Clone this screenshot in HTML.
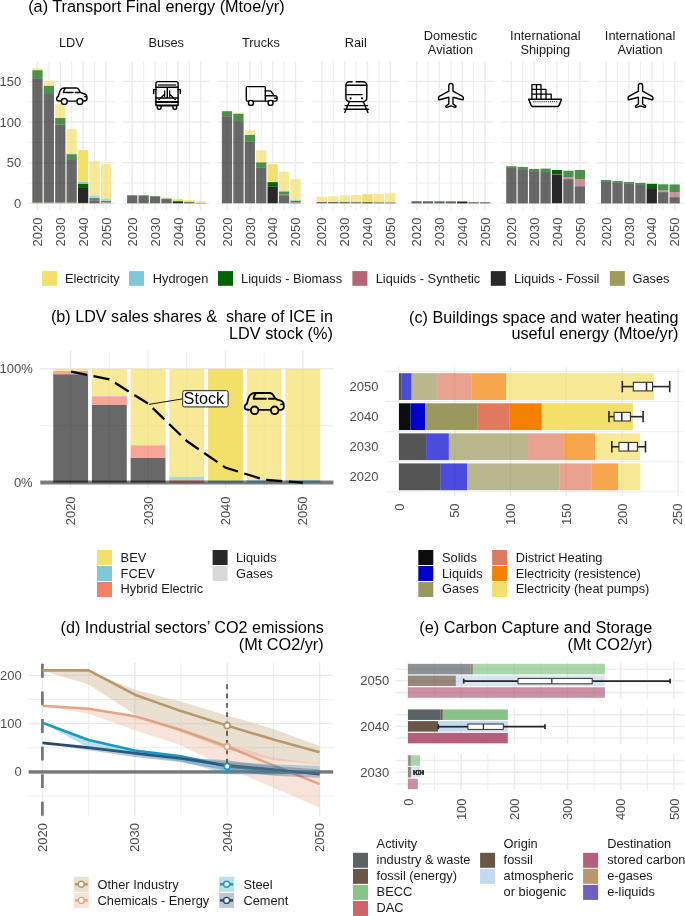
<!DOCTYPE html>
<html><head><meta charset="utf-8"><style>
html,body{margin:0;padding:0;background:#fff;}
svg{display:block;font-family:"Liberation Sans", sans-serif;will-change:transform;}
</style></head><body>
<svg width="685" height="916" viewBox="0 0 685 916">
<rect width="685" height="916" fill="#fff"/>
<text x="28.2" y="11.7" font-size="16.25" fill="#000" text-anchor="start">(a) Transport Final energy (Mtoe/yr)</text>
<line x1="28.1" y1="183.07" x2="114.7" y2="183.07" stroke="#EBEBEB" stroke-width="0.9"/>
<line x1="28.1" y1="142.4" x2="114.7" y2="142.4" stroke="#EBEBEB" stroke-width="0.9"/>
<line x1="28.1" y1="101.74" x2="114.7" y2="101.74" stroke="#EBEBEB" stroke-width="0.9"/>
<line x1="48.87" y1="61.6" x2="48.87" y2="210.4" stroke="#EBEBEB" stroke-width="0.9"/>
<line x1="71.7" y1="61.6" x2="71.7" y2="210.4" stroke="#EBEBEB" stroke-width="0.9"/>
<line x1="94.53" y1="61.6" x2="94.53" y2="210.4" stroke="#EBEBEB" stroke-width="0.9"/>
<line x1="28.1" y1="203.4" x2="114.7" y2="203.4" stroke="#EBEBEB" stroke-width="1.4"/>
<line x1="28.1" y1="162.74" x2="114.7" y2="162.74" stroke="#EBEBEB" stroke-width="1.4"/>
<line x1="28.1" y1="122.07" x2="114.7" y2="122.07" stroke="#EBEBEB" stroke-width="1.4"/>
<line x1="28.1" y1="81.41" x2="114.7" y2="81.41" stroke="#EBEBEB" stroke-width="1.4"/>
<line x1="37.46" y1="61.6" x2="37.46" y2="210.4" stroke="#EBEBEB" stroke-width="1.4"/>
<line x1="60.29" y1="61.6" x2="60.29" y2="210.4" stroke="#EBEBEB" stroke-width="1.4"/>
<line x1="83.12" y1="61.6" x2="83.12" y2="210.4" stroke="#EBEBEB" stroke-width="1.4"/>
<line x1="105.94" y1="61.6" x2="105.94" y2="210.4" stroke="#EBEBEB" stroke-width="1.4"/>
<rect x="32.32" y="202.59" width="10.27" height="0.81" fill="#A09B5C" fill-opacity="0.7"/>
<rect x="32.32" y="78.23" width="10.27" height="124.35" fill="#282828" fill-opacity="0.7"/>
<rect x="32.32" y="70.18" width="10.27" height="8.05" fill="#006400" fill-opacity="0.7"/>
<rect x="32.32" y="68.31" width="10.27" height="1.87" fill="#F3E06A" fill-opacity="0.7"/>
<rect x="43.74" y="202.59" width="10.27" height="0.81" fill="#A09B5C" fill-opacity="0.7"/>
<rect x="43.74" y="93.12" width="10.27" height="109.47" fill="#282828" fill-opacity="0.7"/>
<rect x="43.74" y="85.8" width="10.27" height="7.32" fill="#006400" fill-opacity="0.7"/>
<rect x="43.74" y="80.84" width="10.27" height="4.96" fill="#F3E06A" fill-opacity="0.7"/>
<rect x="55.15" y="202.59" width="10.27" height="0.81" fill="#A09B5C" fill-opacity="0.7"/>
<rect x="55.15" y="124.51" width="10.27" height="78.08" fill="#282828" fill-opacity="0.7"/>
<rect x="55.15" y="118" width="10.27" height="6.51" fill="#006400" fill-opacity="0.7"/>
<rect x="55.15" y="117.76" width="10.27" height="0.24" fill="#7FC8DA" fill-opacity="0.7"/>
<rect x="55.15" y="104.26" width="10.27" height="13.5" fill="#F3E06A" fill-opacity="0.7"/>
<rect x="66.56" y="202.59" width="10.27" height="0.81" fill="#A09B5C" fill-opacity="0.7"/>
<rect x="66.56" y="159.97" width="10.27" height="42.62" fill="#282828" fill-opacity="0.7"/>
<rect x="66.56" y="154.2" width="10.27" height="5.77" fill="#006400" fill-opacity="0.7"/>
<rect x="66.56" y="153.3" width="10.27" height="0.89" fill="#7FC8DA" fill-opacity="0.7"/>
<rect x="66.56" y="129.15" width="10.27" height="24.16" fill="#F3E06A" fill-opacity="0.7"/>
<rect x="77.98" y="202.91" width="10.27" height="0.49" fill="#A09B5C"/>
<rect x="77.98" y="187.95" width="10.27" height="14.96" fill="#282828"/>
<rect x="77.98" y="183.96" width="10.27" height="3.99" fill="#006400"/>
<rect x="77.98" y="181.85" width="10.27" height="2.11" fill="#7FC8DA"/>
<rect x="77.98" y="150.13" width="10.27" height="31.72" fill="#F3E06A"/>
<rect x="89.39" y="203.24" width="10.27" height="0.16" fill="#A09B5C" fill-opacity="0.7"/>
<rect x="89.39" y="200.23" width="10.27" height="3.01" fill="#282828" fill-opacity="0.7"/>
<rect x="89.39" y="199.98" width="10.27" height="0.24" fill="#B46474" fill-opacity="0.7"/>
<rect x="89.39" y="198.11" width="10.27" height="1.87" fill="#006400" fill-opacity="0.7"/>
<rect x="89.39" y="195.51" width="10.27" height="2.6" fill="#7FC8DA" fill-opacity="0.7"/>
<rect x="89.39" y="161.19" width="10.27" height="34.32" fill="#F3E06A" fill-opacity="0.7"/>
<rect x="100.81" y="203.32" width="10.27" height="0.08" fill="#A09B5C" fill-opacity="0.7"/>
<rect x="100.81" y="202.18" width="10.27" height="1.14" fill="#B46474" fill-opacity="0.7"/>
<rect x="100.81" y="200.96" width="10.27" height="1.22" fill="#006400" fill-opacity="0.7"/>
<rect x="100.81" y="198.76" width="10.27" height="2.2" fill="#7FC8DA" fill-opacity="0.7"/>
<rect x="100.81" y="164.12" width="10.27" height="34.65" fill="#F3E06A" fill-opacity="0.7"/>
<text x="71.4" y="47" font-size="12.8" fill="#1A1A1A" text-anchor="middle">LDV</text>
<text x="42.11" y="217.5" font-size="13" fill="#4D4D4D" text-anchor="end" transform="rotate(-90 42.11 217.5)">2020</text>
<text x="64.94" y="217.5" font-size="13" fill="#4D4D4D" text-anchor="end" transform="rotate(-90 64.94 217.5)">2030</text>
<text x="87.77" y="217.5" font-size="13" fill="#4D4D4D" text-anchor="end" transform="rotate(-90 87.77 217.5)">2040</text>
<text x="110.59" y="217.5" font-size="13" fill="#4D4D4D" text-anchor="end" transform="rotate(-90 110.59 217.5)">2050</text>
<line x1="122.88" y1="183.07" x2="209.48" y2="183.07" stroke="#EBEBEB" stroke-width="0.9"/>
<line x1="122.88" y1="142.4" x2="209.48" y2="142.4" stroke="#EBEBEB" stroke-width="0.9"/>
<line x1="122.88" y1="101.74" x2="209.48" y2="101.74" stroke="#EBEBEB" stroke-width="0.9"/>
<line x1="143.65" y1="61.6" x2="143.65" y2="210.4" stroke="#EBEBEB" stroke-width="0.9"/>
<line x1="166.48" y1="61.6" x2="166.48" y2="210.4" stroke="#EBEBEB" stroke-width="0.9"/>
<line x1="189.31" y1="61.6" x2="189.31" y2="210.4" stroke="#EBEBEB" stroke-width="0.9"/>
<line x1="122.88" y1="203.4" x2="209.48" y2="203.4" stroke="#EBEBEB" stroke-width="1.4"/>
<line x1="122.88" y1="162.74" x2="209.48" y2="162.74" stroke="#EBEBEB" stroke-width="1.4"/>
<line x1="122.88" y1="122.07" x2="209.48" y2="122.07" stroke="#EBEBEB" stroke-width="1.4"/>
<line x1="122.88" y1="81.41" x2="209.48" y2="81.41" stroke="#EBEBEB" stroke-width="1.4"/>
<line x1="132.23" y1="61.6" x2="132.23" y2="210.4" stroke="#EBEBEB" stroke-width="1.4"/>
<line x1="155.06" y1="61.6" x2="155.06" y2="210.4" stroke="#EBEBEB" stroke-width="1.4"/>
<line x1="177.89" y1="61.6" x2="177.89" y2="210.4" stroke="#EBEBEB" stroke-width="1.4"/>
<line x1="200.72" y1="61.6" x2="200.72" y2="210.4" stroke="#EBEBEB" stroke-width="1.4"/>
<rect x="127.1" y="203.24" width="10.27" height="0.16" fill="#A09B5C" fill-opacity="0.7"/>
<rect x="127.1" y="195.59" width="10.27" height="7.65" fill="#282828" fill-opacity="0.7"/>
<rect x="127.1" y="195.1" width="10.27" height="0.49" fill="#006400" fill-opacity="0.7"/>
<rect x="138.51" y="203.24" width="10.27" height="0.16" fill="#A09B5C" fill-opacity="0.7"/>
<rect x="138.51" y="195.75" width="10.27" height="7.48" fill="#282828" fill-opacity="0.7"/>
<rect x="138.51" y="195.27" width="10.27" height="0.49" fill="#006400" fill-opacity="0.7"/>
<rect x="149.93" y="203.24" width="10.27" height="0.16" fill="#A09B5C" fill-opacity="0.7"/>
<rect x="149.93" y="196.97" width="10.27" height="6.26" fill="#282828" fill-opacity="0.7"/>
<rect x="149.93" y="196.16" width="10.27" height="0.81" fill="#006400" fill-opacity="0.7"/>
<rect x="161.34" y="203.24" width="10.27" height="0.16" fill="#A09B5C" fill-opacity="0.7"/>
<rect x="161.34" y="199.09" width="10.27" height="4.15" fill="#282828" fill-opacity="0.7"/>
<rect x="161.34" y="198.52" width="10.27" height="0.57" fill="#006400" fill-opacity="0.7"/>
<rect x="161.34" y="197.63" width="10.27" height="0.89" fill="#F3E06A" fill-opacity="0.7"/>
<rect x="172.76" y="203.24" width="10.27" height="0.16" fill="#A09B5C"/>
<rect x="172.76" y="201.61" width="10.27" height="1.63" fill="#282828"/>
<rect x="172.76" y="200.72" width="10.27" height="0.89" fill="#006400"/>
<rect x="172.76" y="199.17" width="10.27" height="1.55" fill="#F3E06A"/>
<rect x="184.18" y="203.32" width="10.27" height="0.08" fill="#A09B5C" fill-opacity="0.7"/>
<rect x="184.18" y="202.1" width="10.27" height="1.22" fill="#282828" fill-opacity="0.7"/>
<rect x="184.18" y="201.69" width="10.27" height="0.41" fill="#006400" fill-opacity="0.7"/>
<rect x="184.18" y="199.98" width="10.27" height="1.71" fill="#F3E06A" fill-opacity="0.7"/>
<rect x="195.59" y="203.32" width="10.27" height="0.08" fill="#A09B5C" fill-opacity="0.7"/>
<rect x="195.59" y="202.99" width="10.27" height="0.33" fill="#282828" fill-opacity="0.7"/>
<rect x="195.59" y="202.83" width="10.27" height="0.16" fill="#006400" fill-opacity="0.7"/>
<rect x="195.59" y="201.2" width="10.27" height="1.63" fill="#F3E06A" fill-opacity="0.7"/>
<text x="166.18" y="47" font-size="12.8" fill="#1A1A1A" text-anchor="middle">Buses</text>
<text x="136.88" y="217.5" font-size="13" fill="#4D4D4D" text-anchor="end" transform="rotate(-90 136.88 217.5)">2020</text>
<text x="159.72" y="217.5" font-size="13" fill="#4D4D4D" text-anchor="end" transform="rotate(-90 159.72 217.5)">2030</text>
<text x="182.54" y="217.5" font-size="13" fill="#4D4D4D" text-anchor="end" transform="rotate(-90 182.54 217.5)">2040</text>
<text x="205.38" y="217.5" font-size="13" fill="#4D4D4D" text-anchor="end" transform="rotate(-90 205.38 217.5)">2050</text>
<line x1="217.66" y1="183.07" x2="304.26" y2="183.07" stroke="#EBEBEB" stroke-width="0.9"/>
<line x1="217.66" y1="142.4" x2="304.26" y2="142.4" stroke="#EBEBEB" stroke-width="0.9"/>
<line x1="217.66" y1="101.74" x2="304.26" y2="101.74" stroke="#EBEBEB" stroke-width="0.9"/>
<line x1="238.43" y1="61.6" x2="238.43" y2="210.4" stroke="#EBEBEB" stroke-width="0.9"/>
<line x1="261.26" y1="61.6" x2="261.26" y2="210.4" stroke="#EBEBEB" stroke-width="0.9"/>
<line x1="284.09" y1="61.6" x2="284.09" y2="210.4" stroke="#EBEBEB" stroke-width="0.9"/>
<line x1="217.66" y1="203.4" x2="304.26" y2="203.4" stroke="#EBEBEB" stroke-width="1.4"/>
<line x1="217.66" y1="162.74" x2="304.26" y2="162.74" stroke="#EBEBEB" stroke-width="1.4"/>
<line x1="217.66" y1="122.07" x2="304.26" y2="122.07" stroke="#EBEBEB" stroke-width="1.4"/>
<line x1="217.66" y1="81.41" x2="304.26" y2="81.41" stroke="#EBEBEB" stroke-width="1.4"/>
<line x1="227.01" y1="61.6" x2="227.01" y2="210.4" stroke="#EBEBEB" stroke-width="1.4"/>
<line x1="249.84" y1="61.6" x2="249.84" y2="210.4" stroke="#EBEBEB" stroke-width="1.4"/>
<line x1="272.68" y1="61.6" x2="272.68" y2="210.4" stroke="#EBEBEB" stroke-width="1.4"/>
<line x1="295.5" y1="61.6" x2="295.5" y2="210.4" stroke="#EBEBEB" stroke-width="1.4"/>
<rect x="221.88" y="203.16" width="10.27" height="0.24" fill="#A09B5C" fill-opacity="0.7"/>
<rect x="221.88" y="116.21" width="10.27" height="86.94" fill="#282828" fill-opacity="0.7"/>
<rect x="221.88" y="111.17" width="10.27" height="5.04" fill="#006400" fill-opacity="0.7"/>
<rect x="233.3" y="203.16" width="10.27" height="0.24" fill="#A09B5C" fill-opacity="0.7"/>
<rect x="233.3" y="121.09" width="10.27" height="82.06" fill="#282828" fill-opacity="0.7"/>
<rect x="233.3" y="113.61" width="10.27" height="7.48" fill="#006400" fill-opacity="0.7"/>
<rect x="233.3" y="112.8" width="10.27" height="0.81" fill="#F3E06A" fill-opacity="0.7"/>
<rect x="244.71" y="203.16" width="10.27" height="0.24" fill="#A09B5C" fill-opacity="0.7"/>
<rect x="244.71" y="141.83" width="10.27" height="61.32" fill="#282828" fill-opacity="0.7"/>
<rect x="244.71" y="134.84" width="10.27" height="6.99" fill="#006400" fill-opacity="0.7"/>
<rect x="244.71" y="130.28" width="10.27" height="4.55" fill="#F3E06A" fill-opacity="0.7"/>
<rect x="256.12" y="203.16" width="10.27" height="0.24" fill="#A09B5C" fill-opacity="0.7"/>
<rect x="256.12" y="167.78" width="10.27" height="35.38" fill="#282828" fill-opacity="0.7"/>
<rect x="256.12" y="162.33" width="10.27" height="5.45" fill="#006400" fill-opacity="0.7"/>
<rect x="256.12" y="150.29" width="10.27" height="12.04" fill="#F3E06A" fill-opacity="0.7"/>
<rect x="267.54" y="203.16" width="10.27" height="0.24" fill="#A09B5C"/>
<rect x="267.54" y="186.81" width="10.27" height="16.35" fill="#282828"/>
<rect x="267.54" y="182.09" width="10.27" height="4.72" fill="#006400"/>
<rect x="267.54" y="181.77" width="10.27" height="0.33" fill="#7FC8DA"/>
<rect x="267.54" y="164.2" width="10.27" height="17.57" fill="#F3E06A"/>
<rect x="278.95" y="203.16" width="10.27" height="0.24" fill="#A09B5C" fill-opacity="0.7"/>
<rect x="278.95" y="195.19" width="10.27" height="7.97" fill="#282828" fill-opacity="0.7"/>
<rect x="278.95" y="194.7" width="10.27" height="0.49" fill="#B46474" fill-opacity="0.7"/>
<rect x="278.95" y="191.44" width="10.27" height="3.25" fill="#006400" fill-opacity="0.7"/>
<rect x="278.95" y="190.55" width="10.27" height="0.89" fill="#7FC8DA" fill-opacity="0.7"/>
<rect x="278.95" y="171.76" width="10.27" height="18.79" fill="#F3E06A" fill-opacity="0.7"/>
<rect x="290.37" y="203.16" width="10.27" height="0.24" fill="#A09B5C" fill-opacity="0.7"/>
<rect x="290.37" y="202.42" width="10.27" height="0.73" fill="#282828" fill-opacity="0.7"/>
<rect x="290.37" y="202.02" width="10.27" height="0.41" fill="#B46474" fill-opacity="0.7"/>
<rect x="290.37" y="200.72" width="10.27" height="1.3" fill="#006400" fill-opacity="0.7"/>
<rect x="290.37" y="199.82" width="10.27" height="0.89" fill="#7FC8DA" fill-opacity="0.7"/>
<rect x="290.37" y="179.08" width="10.27" height="20.74" fill="#F3E06A" fill-opacity="0.7"/>
<text x="260.96" y="47" font-size="12.8" fill="#1A1A1A" text-anchor="middle">Trucks</text>
<text x="231.66" y="217.5" font-size="13" fill="#4D4D4D" text-anchor="end" transform="rotate(-90 231.66 217.5)">2020</text>
<text x="254.5" y="217.5" font-size="13" fill="#4D4D4D" text-anchor="end" transform="rotate(-90 254.5 217.5)">2030</text>
<text x="277.32" y="217.5" font-size="13" fill="#4D4D4D" text-anchor="end" transform="rotate(-90 277.32 217.5)">2040</text>
<text x="300.15" y="217.5" font-size="13" fill="#4D4D4D" text-anchor="end" transform="rotate(-90 300.15 217.5)">2050</text>
<line x1="312.44" y1="183.07" x2="399.04" y2="183.07" stroke="#EBEBEB" stroke-width="0.9"/>
<line x1="312.44" y1="142.4" x2="399.04" y2="142.4" stroke="#EBEBEB" stroke-width="0.9"/>
<line x1="312.44" y1="101.74" x2="399.04" y2="101.74" stroke="#EBEBEB" stroke-width="0.9"/>
<line x1="333.21" y1="61.6" x2="333.21" y2="210.4" stroke="#EBEBEB" stroke-width="0.9"/>
<line x1="356.04" y1="61.6" x2="356.04" y2="210.4" stroke="#EBEBEB" stroke-width="0.9"/>
<line x1="378.87" y1="61.6" x2="378.87" y2="210.4" stroke="#EBEBEB" stroke-width="0.9"/>
<line x1="312.44" y1="203.4" x2="399.04" y2="203.4" stroke="#EBEBEB" stroke-width="1.4"/>
<line x1="312.44" y1="162.74" x2="399.04" y2="162.74" stroke="#EBEBEB" stroke-width="1.4"/>
<line x1="312.44" y1="122.07" x2="399.04" y2="122.07" stroke="#EBEBEB" stroke-width="1.4"/>
<line x1="312.44" y1="81.41" x2="399.04" y2="81.41" stroke="#EBEBEB" stroke-width="1.4"/>
<line x1="321.8" y1="61.6" x2="321.8" y2="210.4" stroke="#EBEBEB" stroke-width="1.4"/>
<line x1="344.63" y1="61.6" x2="344.63" y2="210.4" stroke="#EBEBEB" stroke-width="1.4"/>
<line x1="367.46" y1="61.6" x2="367.46" y2="210.4" stroke="#EBEBEB" stroke-width="1.4"/>
<line x1="390.29" y1="61.6" x2="390.29" y2="210.4" stroke="#EBEBEB" stroke-width="1.4"/>
<rect x="316.66" y="203.24" width="10.27" height="0.16" fill="#A09B5C" fill-opacity="0.7"/>
<rect x="316.66" y="202.02" width="10.27" height="1.22" fill="#282828" fill-opacity="0.7"/>
<rect x="316.66" y="196.97" width="10.27" height="5.04" fill="#F3E06A" fill-opacity="0.7"/>
<rect x="328.08" y="203.24" width="10.27" height="0.16" fill="#A09B5C" fill-opacity="0.7"/>
<rect x="328.08" y="202.02" width="10.27" height="1.22" fill="#282828" fill-opacity="0.7"/>
<rect x="328.08" y="196.16" width="10.27" height="5.86" fill="#F3E06A" fill-opacity="0.7"/>
<rect x="339.49" y="203.24" width="10.27" height="0.16" fill="#A09B5C" fill-opacity="0.7"/>
<rect x="339.49" y="202.1" width="10.27" height="1.14" fill="#282828" fill-opacity="0.7"/>
<rect x="339.49" y="202.02" width="10.27" height="0.08" fill="#006400" fill-opacity="0.7"/>
<rect x="339.49" y="195.19" width="10.27" height="6.83" fill="#F3E06A" fill-opacity="0.7"/>
<rect x="350.91" y="203.24" width="10.27" height="0.16" fill="#A09B5C" fill-opacity="0.7"/>
<rect x="350.91" y="202.18" width="10.27" height="1.06" fill="#282828" fill-opacity="0.7"/>
<rect x="350.91" y="202.1" width="10.27" height="0.08" fill="#006400" fill-opacity="0.7"/>
<rect x="350.91" y="195.02" width="10.27" height="7.08" fill="#F3E06A" fill-opacity="0.7"/>
<rect x="362.32" y="203.24" width="10.27" height="0.16" fill="#A09B5C"/>
<rect x="362.32" y="202.26" width="10.27" height="0.98" fill="#282828"/>
<rect x="362.32" y="202.18" width="10.27" height="0.08" fill="#006400"/>
<rect x="362.32" y="194.29" width="10.27" height="7.89" fill="#F3E06A"/>
<rect x="373.74" y="203.32" width="10.27" height="0.08" fill="#A09B5C" fill-opacity="0.7"/>
<rect x="373.74" y="202.42" width="10.27" height="0.89" fill="#282828" fill-opacity="0.7"/>
<rect x="373.74" y="202.26" width="10.27" height="0.16" fill="#006400" fill-opacity="0.7"/>
<rect x="373.74" y="193.88" width="10.27" height="8.38" fill="#F3E06A" fill-opacity="0.7"/>
<rect x="385.15" y="203.32" width="10.27" height="0.08" fill="#A09B5C" fill-opacity="0.7"/>
<rect x="385.15" y="202.51" width="10.27" height="0.81" fill="#282828" fill-opacity="0.7"/>
<rect x="385.15" y="202.34" width="10.27" height="0.16" fill="#006400" fill-opacity="0.7"/>
<rect x="385.15" y="193.07" width="10.27" height="9.27" fill="#F3E06A" fill-opacity="0.7"/>
<text x="355.74" y="47" font-size="12.8" fill="#1A1A1A" text-anchor="middle">Rail</text>
<text x="326.45" y="217.5" font-size="13" fill="#4D4D4D" text-anchor="end" transform="rotate(-90 326.45 217.5)">2020</text>
<text x="349.28" y="217.5" font-size="13" fill="#4D4D4D" text-anchor="end" transform="rotate(-90 349.28 217.5)">2030</text>
<text x="372.11" y="217.5" font-size="13" fill="#4D4D4D" text-anchor="end" transform="rotate(-90 372.11 217.5)">2040</text>
<text x="394.94" y="217.5" font-size="13" fill="#4D4D4D" text-anchor="end" transform="rotate(-90 394.94 217.5)">2050</text>
<line x1="407.22" y1="183.07" x2="493.82" y2="183.07" stroke="#EBEBEB" stroke-width="0.9"/>
<line x1="407.22" y1="142.4" x2="493.82" y2="142.4" stroke="#EBEBEB" stroke-width="0.9"/>
<line x1="407.22" y1="101.74" x2="493.82" y2="101.74" stroke="#EBEBEB" stroke-width="0.9"/>
<line x1="427.99" y1="61.6" x2="427.99" y2="210.4" stroke="#EBEBEB" stroke-width="0.9"/>
<line x1="450.82" y1="61.6" x2="450.82" y2="210.4" stroke="#EBEBEB" stroke-width="0.9"/>
<line x1="473.65" y1="61.6" x2="473.65" y2="210.4" stroke="#EBEBEB" stroke-width="0.9"/>
<line x1="407.22" y1="203.4" x2="493.82" y2="203.4" stroke="#EBEBEB" stroke-width="1.4"/>
<line x1="407.22" y1="162.74" x2="493.82" y2="162.74" stroke="#EBEBEB" stroke-width="1.4"/>
<line x1="407.22" y1="122.07" x2="493.82" y2="122.07" stroke="#EBEBEB" stroke-width="1.4"/>
<line x1="407.22" y1="81.41" x2="493.82" y2="81.41" stroke="#EBEBEB" stroke-width="1.4"/>
<line x1="416.58" y1="61.6" x2="416.58" y2="210.4" stroke="#EBEBEB" stroke-width="1.4"/>
<line x1="439.41" y1="61.6" x2="439.41" y2="210.4" stroke="#EBEBEB" stroke-width="1.4"/>
<line x1="462.24" y1="61.6" x2="462.24" y2="210.4" stroke="#EBEBEB" stroke-width="1.4"/>
<line x1="485.07" y1="61.6" x2="485.07" y2="210.4" stroke="#EBEBEB" stroke-width="1.4"/>
<rect x="411.44" y="201.29" width="10.27" height="2.11" fill="#282828" fill-opacity="0.7"/>
<rect x="411.44" y="201.2" width="10.27" height="0.08" fill="#006400" fill-opacity="0.7"/>
<rect x="422.86" y="201.37" width="10.27" height="2.03" fill="#282828" fill-opacity="0.7"/>
<rect x="422.86" y="201.12" width="10.27" height="0.24" fill="#006400" fill-opacity="0.7"/>
<rect x="434.27" y="201.37" width="10.27" height="2.03" fill="#282828" fill-opacity="0.7"/>
<rect x="434.27" y="201.2" width="10.27" height="0.16" fill="#006400" fill-opacity="0.7"/>
<rect x="445.69" y="201.45" width="10.27" height="1.95" fill="#282828" fill-opacity="0.7"/>
<rect x="445.69" y="201.2" width="10.27" height="0.24" fill="#006400" fill-opacity="0.7"/>
<rect x="457.1" y="201.77" width="10.27" height="1.63" fill="#282828"/>
<rect x="457.1" y="201.37" width="10.27" height="0.41" fill="#006400"/>
<rect x="468.52" y="202.42" width="10.27" height="0.98" fill="#282828" fill-opacity="0.7"/>
<rect x="468.52" y="202.34" width="10.27" height="0.08" fill="#B46474" fill-opacity="0.7"/>
<rect x="468.52" y="201.94" width="10.27" height="0.41" fill="#006400" fill-opacity="0.7"/>
<rect x="479.93" y="202.59" width="10.27" height="0.81" fill="#282828" fill-opacity="0.7"/>
<rect x="479.93" y="202.42" width="10.27" height="0.16" fill="#B46474" fill-opacity="0.7"/>
<rect x="479.93" y="201.94" width="10.27" height="0.49" fill="#006400" fill-opacity="0.7"/>
<text x="450.52" y="39.9" font-size="12.8" fill="#1A1A1A" text-anchor="middle">Domestic</text>
<text x="450.52" y="54.1" font-size="12.8" fill="#1A1A1A" text-anchor="middle">Aviation</text>
<text x="421.23" y="217.5" font-size="13" fill="#4D4D4D" text-anchor="end" transform="rotate(-90 421.23 217.5)">2020</text>
<text x="444.06" y="217.5" font-size="13" fill="#4D4D4D" text-anchor="end" transform="rotate(-90 444.06 217.5)">2030</text>
<text x="466.89" y="217.5" font-size="13" fill="#4D4D4D" text-anchor="end" transform="rotate(-90 466.89 217.5)">2040</text>
<text x="489.72" y="217.5" font-size="13" fill="#4D4D4D" text-anchor="end" transform="rotate(-90 489.72 217.5)">2050</text>
<line x1="502" y1="183.07" x2="588.6" y2="183.07" stroke="#EBEBEB" stroke-width="0.9"/>
<line x1="502" y1="142.4" x2="588.6" y2="142.4" stroke="#EBEBEB" stroke-width="0.9"/>
<line x1="502" y1="101.74" x2="588.6" y2="101.74" stroke="#EBEBEB" stroke-width="0.9"/>
<line x1="522.77" y1="61.6" x2="522.77" y2="210.4" stroke="#EBEBEB" stroke-width="0.9"/>
<line x1="545.6" y1="61.6" x2="545.6" y2="210.4" stroke="#EBEBEB" stroke-width="0.9"/>
<line x1="568.43" y1="61.6" x2="568.43" y2="210.4" stroke="#EBEBEB" stroke-width="0.9"/>
<line x1="502" y1="203.4" x2="588.6" y2="203.4" stroke="#EBEBEB" stroke-width="1.4"/>
<line x1="502" y1="162.74" x2="588.6" y2="162.74" stroke="#EBEBEB" stroke-width="1.4"/>
<line x1="502" y1="122.07" x2="588.6" y2="122.07" stroke="#EBEBEB" stroke-width="1.4"/>
<line x1="502" y1="81.41" x2="588.6" y2="81.41" stroke="#EBEBEB" stroke-width="1.4"/>
<line x1="511.36" y1="61.6" x2="511.36" y2="210.4" stroke="#EBEBEB" stroke-width="1.4"/>
<line x1="534.19" y1="61.6" x2="534.19" y2="210.4" stroke="#EBEBEB" stroke-width="1.4"/>
<line x1="557.01" y1="61.6" x2="557.01" y2="210.4" stroke="#EBEBEB" stroke-width="1.4"/>
<line x1="579.85" y1="61.6" x2="579.85" y2="210.4" stroke="#EBEBEB" stroke-width="1.4"/>
<rect x="506.22" y="167.94" width="10.27" height="35.46" fill="#282828" fill-opacity="0.7"/>
<rect x="506.22" y="166.23" width="10.27" height="1.71" fill="#006400" fill-opacity="0.7"/>
<rect x="517.63" y="169.16" width="10.27" height="34.24" fill="#282828" fill-opacity="0.7"/>
<rect x="517.63" y="166.96" width="10.27" height="2.2" fill="#006400" fill-opacity="0.7"/>
<rect x="529.05" y="171.11" width="10.27" height="32.29" fill="#282828" fill-opacity="0.7"/>
<rect x="529.05" y="168.92" width="10.27" height="2.2" fill="#006400" fill-opacity="0.7"/>
<rect x="540.47" y="171.93" width="10.27" height="31.47" fill="#282828" fill-opacity="0.7"/>
<rect x="540.47" y="168.59" width="10.27" height="3.33" fill="#006400" fill-opacity="0.7"/>
<rect x="551.88" y="203.16" width="10.27" height="0.24" fill="#A09B5C"/>
<rect x="551.88" y="174.45" width="10.27" height="28.71" fill="#282828"/>
<rect x="551.88" y="174.2" width="10.27" height="0.24" fill="#B46474"/>
<rect x="551.88" y="169.97" width="10.27" height="4.23" fill="#006400"/>
<rect x="563.3" y="179.16" width="10.27" height="24.24" fill="#282828" fill-opacity="0.7"/>
<rect x="563.3" y="177.13" width="10.27" height="2.03" fill="#B46474" fill-opacity="0.7"/>
<rect x="563.3" y="170.71" width="10.27" height="6.43" fill="#006400" fill-opacity="0.7"/>
<rect x="574.71" y="186.24" width="10.27" height="17.16" fill="#282828" fill-opacity="0.7"/>
<rect x="574.71" y="179.08" width="10.27" height="7.16" fill="#B46474" fill-opacity="0.7"/>
<rect x="574.71" y="169.97" width="10.27" height="9.11" fill="#006400" fill-opacity="0.7"/>
<text x="545.3" y="39.9" font-size="12.8" fill="#1A1A1A" text-anchor="middle">International</text>
<text x="545.3" y="54.1" font-size="12.8" fill="#1A1A1A" text-anchor="middle">Shipping</text>
<text x="516" y="217.5" font-size="13" fill="#4D4D4D" text-anchor="end" transform="rotate(-90 516 217.5)">2020</text>
<text x="538.84" y="217.5" font-size="13" fill="#4D4D4D" text-anchor="end" transform="rotate(-90 538.84 217.5)">2030</text>
<text x="561.66" y="217.5" font-size="13" fill="#4D4D4D" text-anchor="end" transform="rotate(-90 561.66 217.5)">2040</text>
<text x="584.5" y="217.5" font-size="13" fill="#4D4D4D" text-anchor="end" transform="rotate(-90 584.5 217.5)">2050</text>
<line x1="596.78" y1="183.07" x2="683.38" y2="183.07" stroke="#EBEBEB" stroke-width="0.9"/>
<line x1="596.78" y1="142.4" x2="683.38" y2="142.4" stroke="#EBEBEB" stroke-width="0.9"/>
<line x1="596.78" y1="101.74" x2="683.38" y2="101.74" stroke="#EBEBEB" stroke-width="0.9"/>
<line x1="617.55" y1="61.6" x2="617.55" y2="210.4" stroke="#EBEBEB" stroke-width="0.9"/>
<line x1="640.38" y1="61.6" x2="640.38" y2="210.4" stroke="#EBEBEB" stroke-width="0.9"/>
<line x1="663.21" y1="61.6" x2="663.21" y2="210.4" stroke="#EBEBEB" stroke-width="0.9"/>
<line x1="596.78" y1="203.4" x2="683.38" y2="203.4" stroke="#EBEBEB" stroke-width="1.4"/>
<line x1="596.78" y1="162.74" x2="683.38" y2="162.74" stroke="#EBEBEB" stroke-width="1.4"/>
<line x1="596.78" y1="122.07" x2="683.38" y2="122.07" stroke="#EBEBEB" stroke-width="1.4"/>
<line x1="596.78" y1="81.41" x2="683.38" y2="81.41" stroke="#EBEBEB" stroke-width="1.4"/>
<line x1="606.14" y1="61.6" x2="606.14" y2="210.4" stroke="#EBEBEB" stroke-width="1.4"/>
<line x1="628.97" y1="61.6" x2="628.97" y2="210.4" stroke="#EBEBEB" stroke-width="1.4"/>
<line x1="651.8" y1="61.6" x2="651.8" y2="210.4" stroke="#EBEBEB" stroke-width="1.4"/>
<line x1="674.63" y1="61.6" x2="674.63" y2="210.4" stroke="#EBEBEB" stroke-width="1.4"/>
<rect x="601" y="181.28" width="10.27" height="22.12" fill="#282828" fill-opacity="0.7"/>
<rect x="601" y="179.98" width="10.27" height="1.3" fill="#006400" fill-opacity="0.7"/>
<rect x="612.42" y="182.34" width="10.27" height="21.06" fill="#282828" fill-opacity="0.7"/>
<rect x="612.42" y="181.03" width="10.27" height="1.3" fill="#006400" fill-opacity="0.7"/>
<rect x="623.83" y="183.8" width="10.27" height="19.6" fill="#282828" fill-opacity="0.7"/>
<rect x="623.83" y="182.01" width="10.27" height="1.79" fill="#006400" fill-opacity="0.7"/>
<rect x="635.25" y="185.02" width="10.27" height="18.38" fill="#282828" fill-opacity="0.7"/>
<rect x="635.25" y="182.9" width="10.27" height="2.11" fill="#006400" fill-opacity="0.7"/>
<rect x="646.66" y="188.11" width="10.27" height="15.29" fill="#282828"/>
<rect x="646.66" y="183.8" width="10.27" height="4.31" fill="#006400"/>
<rect x="658.08" y="192.1" width="10.27" height="11.3" fill="#282828" fill-opacity="0.7"/>
<rect x="658.08" y="190.22" width="10.27" height="1.87" fill="#B46474" fill-opacity="0.7"/>
<rect x="658.08" y="184.29" width="10.27" height="5.94" fill="#006400" fill-opacity="0.7"/>
<rect x="669.49" y="197.14" width="10.27" height="6.26" fill="#282828" fill-opacity="0.7"/>
<rect x="669.49" y="192.26" width="10.27" height="4.88" fill="#B46474" fill-opacity="0.7"/>
<rect x="669.49" y="184.45" width="10.27" height="7.81" fill="#006400" fill-opacity="0.7"/>
<text x="640.08" y="39.9" font-size="12.8" fill="#1A1A1A" text-anchor="middle">International</text>
<text x="640.08" y="54.1" font-size="12.8" fill="#1A1A1A" text-anchor="middle">Aviation</text>
<text x="610.79" y="217.5" font-size="13" fill="#4D4D4D" text-anchor="end" transform="rotate(-90 610.79 217.5)">2020</text>
<text x="633.62" y="217.5" font-size="13" fill="#4D4D4D" text-anchor="end" transform="rotate(-90 633.62 217.5)">2030</text>
<text x="656.45" y="217.5" font-size="13" fill="#4D4D4D" text-anchor="end" transform="rotate(-90 656.45 217.5)">2040</text>
<text x="679.28" y="217.5" font-size="13" fill="#4D4D4D" text-anchor="end" transform="rotate(-90 679.28 217.5)">2050</text>
<text x="21.2" y="207.9" font-size="13" fill="#4D4D4D" text-anchor="end">0</text>
<text x="21.2" y="167.24" font-size="13" fill="#4D4D4D" text-anchor="end">50</text>
<text x="21.2" y="126.57" font-size="13" fill="#4D4D4D" text-anchor="end">100</text>
<text x="21.2" y="85.91" font-size="13" fill="#4D4D4D" text-anchor="end">150</text>
<rect x="42" y="271.1" width="15" height="14.7" fill="#F3E06A"/>
<text x="64.9" y="283.2" font-size="12.8" fill="#1A1A1A" text-anchor="start">Electricity</text>
<rect x="129" y="271.1" width="15" height="14.7" fill="#7FC8DA"/>
<text x="152.8" y="283.2" font-size="12.8" fill="#1A1A1A" text-anchor="start">Hydrogen</text>
<rect x="218" y="271.1" width="15" height="14.7" fill="#006400"/>
<text x="241.1" y="283.2" font-size="12.8" fill="#1A1A1A" text-anchor="start">Liquids - Biomass</text>
<rect x="352.4" y="271.1" width="15" height="14.7" fill="#B46474"/>
<text x="375.7" y="283.2" font-size="12.8" fill="#1A1A1A" text-anchor="start">Liquids - Synthetic</text>
<rect x="490.8" y="271.1" width="15" height="14.7" fill="#282828"/>
<text x="514.1" y="283.2" font-size="12.8" fill="#1A1A1A" text-anchor="start">Liquids - Fossil</text>
<rect x="609.8" y="271.1" width="15" height="14.7" fill="#A09B5C"/>
<text x="632.5" y="283.2" font-size="12.8" fill="#1A1A1A" text-anchor="start">Gases</text>
<g transform="translate(56.1 87.4) scale(0.775)" fill="none" stroke="#000" stroke-linecap="round" stroke-linejoin="round" stroke-width="1.9"><path d="M6.6 17.7 C3.5 17.7 0.7 17.5 0.7 15.2 L0.7 14.2 C0.7 12.8 2.0 12.5 2.9 11.5 C3.8 8.5 4.2 5.0 6.0 3.0 C7.0 1.6 8.5 0.8 10.5 0.8 L26.0 0.8 C27.5 0.8 28.5 1.6 29.3 3.0 L31.0 5.8 C31.8 7.0 33.0 7.6 35.0 7.9 C38.0 8.4 39.8 10.5 39.8 13.0 L39.8 15.0 C39.8 16.8 38.6 17.7 35.0 17.7 M15.2 17.7 L26.2 17.7 M11.8 1.4 C10.5 2.8 9.6 4.8 9.6 6.6 L21.9 6.6 M24.8 6.6 L30.2 6.6 M37.0 12.2 L39.6 12.2"/><circle cx="10.6" cy="18.1" r="3.8"/><circle cx="30.7" cy="18.1" r="3.8"/></g>
<g fill="none" stroke="#000" stroke-linecap="round" stroke-linejoin="round" stroke-width="1.4">
<rect x="155.9" y="81.6" width="22.2" height="24.2" rx="2"/>
<path d="M155.9 87.3 H178.1 M155.9 98 H178.1 M167.3 87.3 V98 M155.9 89.6 H153.7 V93.6 M178.1 89.6 H180.3 V93.6"/>
<path d="M158.6 85 H175.6" stroke-width="1.6" stroke="#333"/>
<path d="M164.7 90.9 V96.6 M164.6 94.2 L160.8 98 M169.7 90.9 V96.6 M169.8 94.2 L173.6 98" stroke-width="1.2"/>
<path d="M156 102 H178" stroke-width="2"/>
<path d="M155.9 105.3 H178.1"/>
<path d="M158.6 99.6 H159.8 M174.4 99.6 H175.6" stroke-width="1"/>
<path d="M157.3 106 V107.6 Q157.3 109.4 159.2 109.4 Q161.1 109.4 161.1 107.6 V106 M172.9 106 V107.6 Q172.9 109.4 174.8 109.4 Q176.7 109.4 176.7 107.6 V106"/>
</g>
<g fill="none" stroke="#000" stroke-linecap="round" stroke-linejoin="round" stroke-width="1.4">
<path d="M265.3 101.1 H247.3 Q246.3 101.1 246.3 100.1 V87.6 Q246.3 86.6 247.3 86.6 H264.3 Q265.3 86.6 265.3 87.6 Z"/>
<path d="M265.3 90.9 H270.6 L274.2 95.7 H275.4 Q277.1 95.9 277.1 97.6 V99.6 Q277.1 101.1 275.6 101.1 H265.3 M265.3 95.7 H274.2 M274.6 98.3 H277"/>
<circle cx="250.9" cy="102.9" r="2.5" fill="#fff"/><circle cx="270.6" cy="102.9" r="2.5" fill="#fff"/>
</g>
<g fill="none" stroke="#000" stroke-linecap="round" stroke-linejoin="round" stroke-width="1.4">
<path d="M352.1 81.7 H349.9 Q345.9 81.7 345.9 85.7 V97.5 Q345.9 101.6 349.9 101.6 H362.8 Q366.8 101.6 366.8 97.5 V85.7 Q366.8 81.7 362.8 81.7 H356.1"/>
<path d="M345.9 85.3 H366.8 M345.9 94.6 H362.2"/>
<path d="M349.4 101.5 L344.8 112.4 M363.3 101.5 L367.9 112.4 M345.2 105.6 H367.5 M344.2 109.2 H368.6"/>
<circle cx="350.6" cy="98.3" r="0.5" stroke-width="1.3"/><circle cx="362.0" cy="98.3" r="0.5" stroke-width="1.3"/>
</g>
<path transform="translate(450.9 83.5)" d="M-2.1 7.7 L-2.1 2.1 A2.1 2.1 0 0 1 2.1 2.1 L2.1 7.7 L11.6 12.8 Q12.4 13.4 12.4 14.3 L12.4 15.5 Q12.4 16.4 11.5 16.2 L2.1 13.8 L2.1 20.5 L4.8 22.3 Q5.4 22.8 5.0 23.5 Q4.8 24 4.2 23.8 L0 22.4 L-4.2 23.8 Q-4.8 24 -5.0 23.5 Q-5.4 22.8 -4.8 22.3 L-2.1 20.5 L-2.1 13.8 L-11.5 16.2 Q-12.4 16.4 -12.4 15.5 L-12.4 14.3 Q-12.4 13.4 -11.6 12.8 Z" fill="none" stroke="#000" stroke-linecap="round" stroke-linejoin="round" stroke-width="1.4"/>
<path transform="translate(640.5 83.5)" d="M-2.1 7.7 L-2.1 2.1 A2.1 2.1 0 0 1 2.1 2.1 L2.1 7.7 L11.6 12.8 Q12.4 13.4 12.4 14.3 L12.4 15.5 Q12.4 16.4 11.5 16.2 L2.1 13.8 L2.1 20.5 L4.8 22.3 Q5.4 22.8 5.0 23.5 Q4.8 24 4.2 23.8 L0 22.4 L-4.2 23.8 Q-4.8 24 -5.0 23.5 Q-5.4 22.8 -4.8 22.3 L-2.1 20.5 L-2.1 13.8 L-11.5 16.2 Q-12.4 16.4 -12.4 15.5 L-12.4 14.3 Q-12.4 13.4 -11.6 12.8 Z" fill="none" stroke="#000" stroke-linecap="round" stroke-linejoin="round" stroke-width="1.4"/>
<g fill="none" stroke="#000" stroke-linecap="round" stroke-linejoin="round" stroke-width="1.3">
<path d="M531.9 98.5 V84.7 H541 V98.5 M531.9 89.3 H546 V98.5 M531.9 94.2 H551.2 V98.5 M536.5 84.7 V98.5 M541 89.3 V98.5"/>
<path d="M528.7 99.2 H561.6 L559.1 105.4 Q558.7 106.4 557.6 106.4 H532.6 Q531.5 106.4 531.1 105.4 Z" stroke-width="1.5"/>
<path d="M533.2 101.7 H558" stroke-width="1.1" stroke-dasharray="1 1.1" stroke-linecap="butt"/>
</g>
<text x="332.9" y="321.8" font-size="16.17" fill="#000" text-anchor="end" xml:space="preserve">(b) LDV sales shares &amp;  share of ICE in</text>
<text x="332.9" y="339.2" font-size="16.25" fill="#000" text-anchor="end">LDV stock (%)</text>
<line x1="40.3" y1="425.7" x2="333.4" y2="425.7" stroke="#EBEBEB" stroke-width="0.9"/>
<line x1="109.36" y1="351" x2="109.36" y2="488.6" stroke="#EBEBEB" stroke-width="0.9"/>
<line x1="186.76" y1="351" x2="186.76" y2="488.6" stroke="#EBEBEB" stroke-width="0.9"/>
<line x1="264.16" y1="351" x2="264.16" y2="488.6" stroke="#EBEBEB" stroke-width="0.9"/>
<line x1="40.3" y1="482.6" x2="333.4" y2="482.6" stroke="#EBEBEB" stroke-width="1.4"/>
<line x1="40.3" y1="368.8" x2="333.4" y2="368.8" stroke="#EBEBEB" stroke-width="1.4"/>
<line x1="70.66" y1="351" x2="70.66" y2="488.6" stroke="#EBEBEB" stroke-width="1.4"/>
<line x1="148.06" y1="351" x2="148.06" y2="488.6" stroke="#EBEBEB" stroke-width="1.4"/>
<line x1="225.46" y1="351" x2="225.46" y2="488.6" stroke="#EBEBEB" stroke-width="1.4"/>
<line x1="302.86" y1="351" x2="302.86" y2="488.6" stroke="#EBEBEB" stroke-width="1.4"/>
<rect x="53.24" y="374.26" width="34.83" height="108.34" fill="#282828" fill-opacity="0.7"/>
<rect x="53.24" y="370.96" width="34.83" height="3.3" fill="#F4806A" fill-opacity="0.7"/>
<rect x="53.24" y="368.8" width="34.83" height="2.16" fill="#F3E06A" fill-opacity="0.7"/>
<rect x="91.94" y="404.76" width="34.83" height="77.84" fill="#282828" fill-opacity="0.7"/>
<rect x="91.94" y="396.34" width="34.83" height="8.42" fill="#F4806A" fill-opacity="0.7"/>
<rect x="91.94" y="396" width="34.83" height="0.34" fill="#7FC8DA" fill-opacity="0.7"/>
<rect x="91.94" y="368.8" width="34.83" height="27.2" fill="#F3E06A" fill-opacity="0.7"/>
<rect x="130.65" y="457.79" width="34.83" height="24.81" fill="#282828" fill-opacity="0.7"/>
<rect x="130.65" y="445.5" width="34.83" height="12.29" fill="#F4806A" fill-opacity="0.7"/>
<rect x="130.65" y="444.93" width="34.83" height="0.57" fill="#7FC8DA" fill-opacity="0.7"/>
<rect x="130.65" y="368.8" width="34.83" height="76.13" fill="#F3E06A" fill-opacity="0.7"/>
<rect x="169.34" y="482.26" width="34.83" height="0.34" fill="#282828" fill-opacity="0.7"/>
<rect x="169.34" y="480.1" width="34.83" height="2.16" fill="#F4806A" fill-opacity="0.7"/>
<rect x="169.34" y="476.8" width="34.83" height="3.3" fill="#7FC8DA" fill-opacity="0.7"/>
<rect x="169.34" y="368.8" width="34.83" height="108" fill="#F3E06A" fill-opacity="0.7"/>
<rect x="208.05" y="480.55" width="34.83" height="2.05" fill="#7FC8DA"/>
<rect x="208.05" y="368.8" width="34.83" height="111.75" fill="#F3E06A"/>
<rect x="246.74" y="479.75" width="34.83" height="2.85" fill="#7FC8DA" fill-opacity="0.7"/>
<rect x="246.74" y="368.8" width="34.83" height="110.95" fill="#F3E06A" fill-opacity="0.7"/>
<rect x="285.44" y="479.75" width="34.83" height="2.85" fill="#7FC8DA" fill-opacity="0.7"/>
<rect x="285.44" y="368.8" width="34.83" height="110.95" fill="#F3E06A" fill-opacity="0.7"/>
<rect x="40.3" y="480.5" width="293.1" height="4" fill="#000" fill-opacity="0.5"/>
<path d="M71.16 371.6 L109.36 379.3 L148.06 403.6 L186.76 441 L225.46 467.6 L264.16 479.7 L302.86 482.7" fill="none" stroke="#000" stroke-width="2.3" stroke-dasharray="16.2 6.6" stroke-linejoin="round"/>
<line x1="148.8" y1="404.4" x2="182.5" y2="398.9" stroke="#000" stroke-width="0.9"/>
<rect x="182.7" y="390.7" width="45.4" height="16.2" rx="1.6" fill="#fff" stroke="#222" stroke-width="1.0"/>
<text x="183.6" y="403.7" font-size="16.2" fill="#000" text-anchor="start">Stock</text>
<g transform="translate(244.0 392.2) scale(1.0)" fill="none" stroke="#000" stroke-linecap="round" stroke-linejoin="round" stroke-width="1.9"><path d="M6.6 17.7 C3.5 17.7 0.7 17.5 0.7 15.2 L0.7 14.2 C0.7 12.8 2.0 12.5 2.9 11.5 C3.8 8.5 4.2 5.0 6.0 3.0 C7.0 1.6 8.5 0.8 10.5 0.8 L26.0 0.8 C27.5 0.8 28.5 1.6 29.3 3.0 L31.0 5.8 C31.8 7.0 33.0 7.6 35.0 7.9 C38.0 8.4 39.8 10.5 39.8 13.0 L39.8 15.0 C39.8 16.8 38.6 17.7 35.0 17.7 M15.2 17.7 L26.2 17.7 M11.8 1.4 C10.5 2.8 9.6 4.8 9.6 6.6 L21.9 6.6 M24.8 6.6 L30.2 6.6 M37.0 12.2 L39.6 12.2"/><circle cx="10.6" cy="18.1" r="3.8"/><circle cx="30.7" cy="18.1" r="3.8"/></g>
<text x="32.7" y="373.3" font-size="13" fill="#4D4D4D" text-anchor="end">100%</text>
<text x="32.7" y="487.1" font-size="13" fill="#4D4D4D" text-anchor="end">0%</text>
<text x="75.26" y="496.4" font-size="13" fill="#4D4D4D" text-anchor="end" transform="rotate(-90 75.26 496.4)">2020</text>
<text x="152.66" y="496.4" font-size="13" fill="#4D4D4D" text-anchor="end" transform="rotate(-90 152.66 496.4)">2030</text>
<text x="230.06" y="496.4" font-size="13" fill="#4D4D4D" text-anchor="end" transform="rotate(-90 230.06 496.4)">2040</text>
<text x="307.46" y="496.4" font-size="13" fill="#4D4D4D" text-anchor="end" transform="rotate(-90 307.46 496.4)">2050</text>
<rect x="97" y="550" width="15" height="15" fill="#F3E06A"/>
<text x="120.6" y="561.6" font-size="12.8" fill="#1A1A1A" text-anchor="start">BEV</text>
<rect x="97" y="566" width="15" height="15" fill="#7FC8DA"/>
<text x="120.6" y="577.5" font-size="12.8" fill="#1A1A1A" text-anchor="start">FCEV</text>
<rect x="97" y="582" width="15" height="15" fill="#F4806A"/>
<text x="120.6" y="593.4" font-size="12.8" fill="#1A1A1A" text-anchor="start">Hybrid Electric</text>
<rect x="212.6" y="550" width="15" height="15" fill="#282828"/>
<text x="236" y="561.6" font-size="12.8" fill="#1A1A1A" text-anchor="start">Liquids</text>
<rect x="212.6" y="566" width="15" height="15" fill="#D9D9D9"/>
<text x="236" y="577.5" font-size="12.8" fill="#1A1A1A" text-anchor="start">Gases</text>
<text x="678.5" y="322.5" font-size="16.17" fill="#000" text-anchor="end">(c) Buildings space and water heating</text>
<text x="678.5" y="339.4" font-size="16.25" fill="#000" text-anchor="end">useful energy (Mtoe/yr)</text>
<line x1="385.7" y1="491.85" x2="683" y2="491.85" stroke="#EBEBEB" stroke-width="0.9"/>
<line x1="385.7" y1="461.78" x2="683" y2="461.78" stroke="#EBEBEB" stroke-width="0.9"/>
<line x1="385.7" y1="431.71" x2="683" y2="431.71" stroke="#EBEBEB" stroke-width="0.9"/>
<line x1="385.7" y1="401.64" x2="683" y2="401.64" stroke="#EBEBEB" stroke-width="0.9"/>
<line x1="385.7" y1="371.56" x2="683" y2="371.56" stroke="#EBEBEB" stroke-width="0.9"/>
<line x1="399" y1="367.2" x2="399" y2="496.2" stroke="#EBEBEB" stroke-width="1.4"/>
<line x1="454.77" y1="367.2" x2="454.77" y2="496.2" stroke="#EBEBEB" stroke-width="1.4"/>
<line x1="510.55" y1="367.2" x2="510.55" y2="496.2" stroke="#EBEBEB" stroke-width="1.4"/>
<line x1="566.33" y1="367.2" x2="566.33" y2="496.2" stroke="#EBEBEB" stroke-width="1.4"/>
<line x1="622.1" y1="367.2" x2="622.1" y2="496.2" stroke="#EBEBEB" stroke-width="1.4"/>
<line x1="677.88" y1="367.2" x2="677.88" y2="496.2" stroke="#EBEBEB" stroke-width="1.4"/>
<rect x="399" y="373.2" width="2.57" height="26.8" fill="#0D0D0D" fill-opacity="0.7"/>
<rect x="401.57" y="373.2" width="10.04" height="26.8" fill="#0000CD" fill-opacity="0.7"/>
<rect x="411.61" y="373.2" width="25.21" height="26.8" fill="#9A985E" fill-opacity="0.7"/>
<rect x="436.82" y="373.2" width="34.36" height="26.8" fill="#E07A5F" fill-opacity="0.7"/>
<rect x="471.17" y="373.2" width="34.92" height="26.8" fill="#F58000" fill-opacity="0.7"/>
<rect x="506.09" y="373.2" width="147.8" height="26.8" fill="#F3E06A" fill-opacity="0.7"/>
<text x="378.4" y="391.1" font-size="13" fill="#4D4D4D" text-anchor="end">2050</text>
<rect x="399" y="403.27" width="11.38" height="26.8" fill="#0D0D0D"/>
<rect x="410.38" y="403.27" width="14.95" height="26.8" fill="#0000CD"/>
<rect x="425.33" y="403.27" width="52.54" height="26.8" fill="#9A985E"/>
<rect x="477.87" y="403.27" width="31.35" height="26.8" fill="#E07A5F"/>
<rect x="509.21" y="403.27" width="32.57" height="26.8" fill="#F58000"/>
<rect x="541.78" y="403.27" width="91.14" height="26.8" fill="#F3E06A"/>
<text x="378.4" y="421.17" font-size="13" fill="#4D4D4D" text-anchor="end">2040</text>
<rect x="399" y="433.34" width="27.11" height="26.8" fill="#0D0D0D" fill-opacity="0.7"/>
<rect x="426.11" y="433.34" width="22.76" height="26.8" fill="#0000CD" fill-opacity="0.7"/>
<rect x="448.86" y="433.34" width="79.2" height="26.8" fill="#9A985E" fill-opacity="0.7"/>
<rect x="528.06" y="433.34" width="35.03" height="26.8" fill="#E07A5F" fill-opacity="0.7"/>
<rect x="563.09" y="433.34" width="32.01" height="26.8" fill="#F58000" fill-opacity="0.7"/>
<rect x="595.1" y="433.34" width="44.84" height="26.8" fill="#F3E06A" fill-opacity="0.7"/>
<text x="378.4" y="451.24" font-size="13" fill="#4D4D4D" text-anchor="end">2030</text>
<rect x="399" y="463.41" width="41.61" height="26.8" fill="#0D0D0D" fill-opacity="0.7"/>
<rect x="440.61" y="463.41" width="26.66" height="26.8" fill="#0000CD" fill-opacity="0.7"/>
<rect x="467.27" y="463.41" width="92.47" height="26.8" fill="#9A985E" fill-opacity="0.7"/>
<rect x="559.74" y="463.41" width="31.9" height="26.8" fill="#E07A5F" fill-opacity="0.7"/>
<rect x="591.65" y="463.41" width="26.55" height="26.8" fill="#F58000" fill-opacity="0.7"/>
<rect x="618.2" y="463.41" width="22.2" height="26.8" fill="#F3E06A" fill-opacity="0.7"/>
<text x="378.4" y="481.31" font-size="13" fill="#4D4D4D" text-anchor="end">2020</text>
<line x1="622.3" y1="386.6" x2="633.3" y2="386.6" stroke="#262626" stroke-width="1.6"/>
<line x1="652.5" y1="386.6" x2="669.7" y2="386.6" stroke="#262626" stroke-width="1.6"/>
<line x1="622.3" y1="380.9" x2="622.3" y2="392.3" stroke="#262626" stroke-width="1.6"/>
<line x1="669.7" y1="380.9" x2="669.7" y2="392.3" stroke="#262626" stroke-width="1.6"/>
<rect x="633.3" y="382.3" width="19.2" height="8.6" fill="#fff" stroke="#333" stroke-width="1.1"/>
<line x1="646.5" y1="382.3" x2="646.5" y2="390.9" stroke="#333" stroke-width="1.6"/>
<line x1="609" y1="416.67" x2="614.1" y2="416.67" stroke="#262626" stroke-width="1.6"/>
<line x1="630.4" y1="416.67" x2="643.1" y2="416.67" stroke="#262626" stroke-width="1.6"/>
<line x1="609" y1="410.97" x2="609" y2="422.37" stroke="#262626" stroke-width="1.6"/>
<line x1="643.1" y1="410.97" x2="643.1" y2="422.37" stroke="#262626" stroke-width="1.6"/>
<rect x="614.1" y="412.37" width="16.3" height="8.6" fill="#fff" stroke="#333" stroke-width="1.1"/>
<line x1="621.8" y1="412.37" x2="621.8" y2="420.97" stroke="#333" stroke-width="1.6"/>
<line x1="611.8" y1="446.74" x2="619" y2="446.74" stroke="#262626" stroke-width="1.6"/>
<line x1="637.4" y1="446.74" x2="645.5" y2="446.74" stroke="#262626" stroke-width="1.6"/>
<line x1="611.8" y1="441.04" x2="611.8" y2="452.44" stroke="#262626" stroke-width="1.6"/>
<line x1="645.5" y1="441.04" x2="645.5" y2="452.44" stroke="#262626" stroke-width="1.6"/>
<rect x="619" y="442.44" width="18.4" height="8.6" fill="#fff" stroke="#333" stroke-width="1.1"/>
<line x1="628.4" y1="442.44" x2="628.4" y2="451.04" stroke="#333" stroke-width="1.6"/>
<text x="403.6" y="503.4" font-size="13" fill="#4D4D4D" text-anchor="end" transform="rotate(-90 403.6 503.4)">0</text>
<text x="459.38" y="503.4" font-size="13" fill="#4D4D4D" text-anchor="end" transform="rotate(-90 459.38 503.4)">50</text>
<text x="515.15" y="503.4" font-size="13" fill="#4D4D4D" text-anchor="end" transform="rotate(-90 515.15 503.4)">100</text>
<text x="570.93" y="503.4" font-size="13" fill="#4D4D4D" text-anchor="end" transform="rotate(-90 570.93 503.4)">150</text>
<text x="626.7" y="503.4" font-size="13" fill="#4D4D4D" text-anchor="end" transform="rotate(-90 626.7 503.4)">200</text>
<text x="682.48" y="503.4" font-size="13" fill="#4D4D4D" text-anchor="end" transform="rotate(-90 682.48 503.4)">250</text>
<rect x="418.3" y="550" width="15" height="15" fill="#0D0D0D"/>
<text x="442" y="561.6" font-size="12.8" fill="#1A1A1A" text-anchor="start">Solids</text>
<rect x="492.1" y="550" width="15" height="15" fill="#E07A5F"/>
<text x="515.7" y="561.6" font-size="12.8" fill="#1A1A1A" text-anchor="start">District Heating</text>
<rect x="418.3" y="566" width="15" height="15" fill="#0000CD"/>
<text x="442" y="577.5" font-size="12.8" fill="#1A1A1A" text-anchor="start">Liquids</text>
<rect x="492.1" y="566" width="15" height="15" fill="#F58000"/>
<text x="515.7" y="577.5" font-size="12.8" fill="#1A1A1A" text-anchor="start">Electricity (resistence)</text>
<rect x="418.3" y="582" width="15" height="15" fill="#9A985E"/>
<text x="442" y="593.4" font-size="12.8" fill="#1A1A1A" text-anchor="start">Gases</text>
<rect x="492.1" y="582" width="15" height="15" fill="#F3E06A"/>
<text x="515.7" y="593.4" font-size="12.8" fill="#1A1A1A" text-anchor="start">Electricity (heat pumps)</text>
<text x="323.9" y="633.2" font-size="16.17" fill="#000" text-anchor="end">(d) Industrial sectors’ CO2 emissions</text>
<text x="323.7" y="650.4" font-size="16.25" fill="#000" text-anchor="end">(Mt CO2/yr)</text>
<line x1="28.6" y1="796.02" x2="333.2" y2="796.02" stroke="#EBEBEB" stroke-width="0.9"/>
<line x1="28.6" y1="747.77" x2="333.2" y2="747.77" stroke="#EBEBEB" stroke-width="0.9"/>
<line x1="28.6" y1="699.52" x2="333.2" y2="699.52" stroke="#EBEBEB" stroke-width="0.9"/>
<line x1="88.64" y1="662.5" x2="88.64" y2="815.6" stroke="#EBEBEB" stroke-width="0.9"/>
<line x1="181.02" y1="662.5" x2="181.02" y2="815.6" stroke="#EBEBEB" stroke-width="0.9"/>
<line x1="273.4" y1="662.5" x2="273.4" y2="815.6" stroke="#EBEBEB" stroke-width="0.9"/>
<line x1="28.6" y1="771.9" x2="333.2" y2="771.9" stroke="#EBEBEB" stroke-width="1.4"/>
<line x1="28.6" y1="723.65" x2="333.2" y2="723.65" stroke="#EBEBEB" stroke-width="1.4"/>
<line x1="28.6" y1="675.4" x2="333.2" y2="675.4" stroke="#EBEBEB" stroke-width="1.4"/>
<line x1="42.45" y1="662.5" x2="42.45" y2="815.6" stroke="#EBEBEB" stroke-width="1.4"/>
<line x1="134.83" y1="662.5" x2="134.83" y2="815.6" stroke="#EBEBEB" stroke-width="1.4"/>
<line x1="227.21" y1="662.5" x2="227.21" y2="815.6" stroke="#EBEBEB" stroke-width="1.4"/>
<line x1="319.59" y1="662.5" x2="319.59" y2="815.6" stroke="#EBEBEB" stroke-width="1.4"/>
<rect x="28.6" y="770.2" width="304.6" height="3.5" fill="#000" fill-opacity="0.5"/>
<line x1="42.4" y1="815.7" x2="42.4" y2="662.5" stroke="#000" stroke-opacity="0.5" stroke-width="2.8" stroke-dasharray="13.9 13.7"/>
<path d="M42.45 670.38 L88.64 670.38 L134.83 694.7 L181.02 711.11 L227.21 725.63 L273.4 739.57 L319.59 752.21" fill="none" stroke="#B8986A" stroke-width="2.6" stroke-linejoin="round"/>
<path d="M42.45 705.8 L88.64 708.69 L134.83 716.17 L181.02 729.92 L227.21 746.62 L273.4 765.39 L319.59 784.11" fill="none" stroke="#E9A384" stroke-width="2.6" stroke-linejoin="round"/>
<path d="M42.45 722.83 L88.64 739.91 L134.83 750.43 L181.02 756.32 L227.21 766.4 L273.4 770.45 L319.59 773.2" fill="none" stroke="#1B9BBF" stroke-width="2.6" stroke-linejoin="round"/>
<path d="M42.45 742.85 L88.64 747.63 L134.83 753.13 L181.02 758.53 L227.21 765.39 L273.4 769.49 L319.59 774.22" fill="none" stroke="#2B4A70" stroke-width="2.6" stroke-linejoin="round"/>
<path d="M42.45 670.38 L88.64 670.38 L134.83 689.68 L181.02 701.45 L227.21 715.45 L273.4 728.96 L319.59 746.04 L319.59 764.18 L273.4 760.32 L227.21 749.7 L181.02 732.34 L134.83 714.48 L88.64 684.57 L42.45 670.38 Z" fill="#B8986A" fill-opacity="0.3"/>
<path d="M42.45 705.8 L88.64 708.69 L134.83 715.69 L181.02 728.48 L227.21 744.4 L273.4 757.42 L319.59 763.94 L319.59 807.61 L273.4 787.82 L227.21 768.04 L181.02 745.36 L134.83 730.16 L88.64 713.76 L42.45 705.8 Z" fill="#E9A384" fill-opacity="0.3"/>
<path d="M42.45 722.83 L88.64 739.91 L134.83 750.43 L181.02 755.98 L227.21 762.25 L273.4 764.18 L319.59 766.11 L319.59 773.35 L273.4 774.79 L227.21 774.31 L181.02 761.28 L134.83 755.21 L88.64 747.63 L42.45 722.83 Z" fill="#1B9BBF" fill-opacity="0.3"/>
<path d="M42.45 742.85 L88.64 747.29 L134.83 752.6 L181.02 757.42 L227.21 760.32 L273.4 766.11 L319.59 769.49 L319.59 777.69 L273.4 775.76 L227.21 770.45 L181.02 762.25 L134.83 756.94 L88.64 750.19 L42.45 742.85 Z" fill="#2B4A70" fill-opacity="0.3"/>
<line x1="227.0" y1="684.3" x2="227.0" y2="766.5" stroke="#333" stroke-width="1.4" stroke-dasharray="4.9 4.4"/>
<circle cx="227.21" cy="725.63" r="2.95" fill="#fff" stroke="#B8986A" stroke-width="1.7"/>
<circle cx="227.21" cy="746.62" r="2.95" fill="#fff" stroke="#E9A384" stroke-width="1.7"/>
<circle cx="227.21" cy="766.4" r="2.95" fill="#fff" stroke="#1B9BBF" stroke-width="1.7"/>
<text x="21.8" y="776.4" font-size="13" fill="#4D4D4D" text-anchor="end">0</text>
<text x="21.8" y="728.15" font-size="13" fill="#4D4D4D" text-anchor="end">100</text>
<text x="21.8" y="679.9" font-size="13" fill="#4D4D4D" text-anchor="end">200</text>
<text x="47.05" y="823.1" font-size="13" fill="#4D4D4D" text-anchor="end" transform="rotate(-90 47.05 823.1)">2020</text>
<text x="139.43" y="823.1" font-size="13" fill="#4D4D4D" text-anchor="end" transform="rotate(-90 139.43 823.1)">2030</text>
<text x="231.81" y="823.1" font-size="13" fill="#4D4D4D" text-anchor="end" transform="rotate(-90 231.81 823.1)">2040</text>
<text x="324.19" y="823.1" font-size="13" fill="#4D4D4D" text-anchor="end" transform="rotate(-90 324.19 823.1)">2050</text>
<rect x="73.8" y="876.8" width="15" height="15" fill="#B8986A" fill-opacity="0.3"/>
<line x1="74.8" y1="884.3" x2="87.8" y2="884.3" stroke="#B8986A" stroke-width="2.5"/>
<circle cx="81.3" cy="884.3" r="3.0" fill="#fff" stroke="#B8986A" stroke-width="1.4"/>
<text x="97.6" y="888.7" font-size="12.8" fill="#1A1A1A" text-anchor="start">Other Industry</text>
<rect x="73.8" y="892.9" width="15" height="15" fill="#E9A384" fill-opacity="0.3"/>
<line x1="74.8" y1="900.4" x2="87.8" y2="900.4" stroke="#E9A384" stroke-width="2.5"/>
<circle cx="81.3" cy="900.4" r="3.0" fill="#fff" stroke="#E9A384" stroke-width="1.4"/>
<text x="97.6" y="904.8" font-size="12.8" fill="#1A1A1A" text-anchor="start">Chemicals - Energy</text>
<rect x="219.1" y="876.8" width="15" height="15" fill="#1B9BBF" fill-opacity="0.3"/>
<line x1="220.1" y1="884.3" x2="233.1" y2="884.3" stroke="#1B9BBF" stroke-width="2.5"/>
<circle cx="226.6" cy="884.3" r="3.0" fill="#fff" stroke="#1B9BBF" stroke-width="1.4"/>
<text x="243.4" y="888.7" font-size="12.8" fill="#1A1A1A" text-anchor="start">Steel</text>
<rect x="219.1" y="892.9" width="15" height="15" fill="#2B4A70" fill-opacity="0.3"/>
<line x1="220.1" y1="900.4" x2="233.1" y2="900.4" stroke="#2B4A70" stroke-width="2.5"/>
<circle cx="226.6" cy="900.4" r="3.0" fill="#fff" stroke="#2B4A70" stroke-width="1.4"/>
<text x="243.4" y="904.8" font-size="12.8" fill="#1A1A1A" text-anchor="start">Cement</text>
<text x="652.4" y="632.8" font-size="16.25" fill="#000" text-anchor="end">(e) Carbon Capture and Storage</text>
<text x="652.4" y="650.3" font-size="16.25" fill="#000" text-anchor="end">(Mt CO2/yr)</text>
<line x1="434.6" y1="662.3" x2="434.6" y2="698.9" stroke="#EBEBEB" stroke-width="0.9"/>
<line x1="487.8" y1="662.3" x2="487.8" y2="698.9" stroke="#EBEBEB" stroke-width="0.9"/>
<line x1="541" y1="662.3" x2="541" y2="698.9" stroke="#EBEBEB" stroke-width="0.9"/>
<line x1="594.2" y1="662.3" x2="594.2" y2="698.9" stroke="#EBEBEB" stroke-width="0.9"/>
<line x1="647.4" y1="662.3" x2="647.4" y2="698.9" stroke="#EBEBEB" stroke-width="0.9"/>
<line x1="408" y1="662.3" x2="408" y2="698.9" stroke="#EBEBEB" stroke-width="1.4"/>
<line x1="461.2" y1="662.3" x2="461.2" y2="698.9" stroke="#EBEBEB" stroke-width="1.4"/>
<line x1="514.4" y1="662.3" x2="514.4" y2="698.9" stroke="#EBEBEB" stroke-width="1.4"/>
<line x1="567.6" y1="662.3" x2="567.6" y2="698.9" stroke="#EBEBEB" stroke-width="1.4"/>
<line x1="620.8" y1="662.3" x2="620.8" y2="698.9" stroke="#EBEBEB" stroke-width="1.4"/>
<line x1="674" y1="662.3" x2="674" y2="698.9" stroke="#EBEBEB" stroke-width="1.4"/>
<line x1="395.4" y1="669.1" x2="683.5" y2="669.1" stroke="#EBEBEB" stroke-width="1.4"/>
<line x1="395.4" y1="680.8" x2="683.5" y2="680.8" stroke="#EBEBEB" stroke-width="1.4"/>
<line x1="395.4" y1="692.5" x2="683.5" y2="692.5" stroke="#EBEBEB" stroke-width="1.4"/>
<rect x="408" y="663.85" width="62.78" height="10.5" fill="#5B6366" fill-opacity="0.7"/>
<rect x="470.78" y="663.85" width="2.13" height="10.5" fill="#6A5646" fill-opacity="0.7"/>
<rect x="472.9" y="663.85" width="131.94" height="10.5" fill="#88C388" fill-opacity="0.7"/>
<rect x="408" y="675.55" width="47.88" height="10.5" fill="#6A5646" fill-opacity="0.7"/>
<rect x="455.88" y="675.55" width="148.96" height="10.5" fill="#C5D9F0" fill-opacity="0.7"/>
<rect x="408" y="687.25" width="195.24" height="10.5" fill="#B5607A" fill-opacity="0.7"/>
<rect x="603.24" y="687.25" width="1.6" height="10.5" fill="#6F60C0" fill-opacity="0.7"/>
<line x1="463.7" y1="681.1" x2="518" y2="681.1" stroke="#262626" stroke-width="1.7"/>
<line x1="592.2" y1="681.1" x2="670.1" y2="681.1" stroke="#262626" stroke-width="1.7"/>
<line x1="463.7" y1="678.7" x2="463.7" y2="683.5" stroke="#262626" stroke-width="1.7"/>
<line x1="670.1" y1="678.7" x2="670.1" y2="683.5" stroke="#262626" stroke-width="1.7"/>
<rect x="518" y="678.4" width="74.2" height="5.4" fill="#fff" stroke="#333" stroke-width="1"/>
<line x1="551.8" y1="678.4" x2="551.8" y2="683.8" stroke="#333" stroke-width="1.3"/>
<text x="389.2" y="685.3" font-size="13" fill="#4D4D4D" text-anchor="end">2050</text>
<line x1="434.6" y1="707.9" x2="434.6" y2="744.5" stroke="#EBEBEB" stroke-width="0.9"/>
<line x1="487.8" y1="707.9" x2="487.8" y2="744.5" stroke="#EBEBEB" stroke-width="0.9"/>
<line x1="541" y1="707.9" x2="541" y2="744.5" stroke="#EBEBEB" stroke-width="0.9"/>
<line x1="594.2" y1="707.9" x2="594.2" y2="744.5" stroke="#EBEBEB" stroke-width="0.9"/>
<line x1="647.4" y1="707.9" x2="647.4" y2="744.5" stroke="#EBEBEB" stroke-width="0.9"/>
<line x1="408" y1="707.9" x2="408" y2="744.5" stroke="#EBEBEB" stroke-width="1.4"/>
<line x1="461.2" y1="707.9" x2="461.2" y2="744.5" stroke="#EBEBEB" stroke-width="1.4"/>
<line x1="514.4" y1="707.9" x2="514.4" y2="744.5" stroke="#EBEBEB" stroke-width="1.4"/>
<line x1="567.6" y1="707.9" x2="567.6" y2="744.5" stroke="#EBEBEB" stroke-width="1.4"/>
<line x1="620.8" y1="707.9" x2="620.8" y2="744.5" stroke="#EBEBEB" stroke-width="1.4"/>
<line x1="674" y1="707.9" x2="674" y2="744.5" stroke="#EBEBEB" stroke-width="1.4"/>
<line x1="395.4" y1="714.7" x2="683.5" y2="714.7" stroke="#EBEBEB" stroke-width="1.4"/>
<line x1="395.4" y1="726.4" x2="683.5" y2="726.4" stroke="#EBEBEB" stroke-width="1.4"/>
<line x1="395.4" y1="738.1" x2="683.5" y2="738.1" stroke="#EBEBEB" stroke-width="1.4"/>
<rect x="408" y="709.45" width="32.45" height="10.5" fill="#5B6366"/>
<rect x="440.45" y="709.45" width="2.34" height="10.5" fill="#6A5646"/>
<rect x="442.79" y="709.45" width="65.01" height="10.5" fill="#88C388"/>
<rect x="408" y="721.15" width="30.32" height="10.5" fill="#6A5646"/>
<rect x="438.32" y="721.15" width="69.48" height="10.5" fill="#C5D9F0"/>
<rect x="408" y="732.85" width="99.8" height="10.5" fill="#B5607A"/>
<line x1="438.3" y1="726.7" x2="467.9" y2="726.7" stroke="#262626" stroke-width="1.7"/>
<line x1="503.3" y1="726.7" x2="545" y2="726.7" stroke="#262626" stroke-width="1.7"/>
<line x1="438.3" y1="724.3" x2="438.3" y2="729.1" stroke="#262626" stroke-width="1.7"/>
<line x1="545" y1="724.3" x2="545" y2="729.1" stroke="#262626" stroke-width="1.7"/>
<rect x="467.9" y="724" width="35.4" height="5.4" fill="#fff" stroke="#333" stroke-width="1"/>
<line x1="483.4" y1="724" x2="483.4" y2="729.4" stroke="#333" stroke-width="1.3"/>
<text x="389.2" y="730.9" font-size="13" fill="#4D4D4D" text-anchor="end">2040</text>
<line x1="434.6" y1="753.7" x2="434.6" y2="790.3" stroke="#EBEBEB" stroke-width="0.9"/>
<line x1="487.8" y1="753.7" x2="487.8" y2="790.3" stroke="#EBEBEB" stroke-width="0.9"/>
<line x1="541" y1="753.7" x2="541" y2="790.3" stroke="#EBEBEB" stroke-width="0.9"/>
<line x1="594.2" y1="753.7" x2="594.2" y2="790.3" stroke="#EBEBEB" stroke-width="0.9"/>
<line x1="647.4" y1="753.7" x2="647.4" y2="790.3" stroke="#EBEBEB" stroke-width="0.9"/>
<line x1="408" y1="753.7" x2="408" y2="790.3" stroke="#EBEBEB" stroke-width="1.4"/>
<line x1="461.2" y1="753.7" x2="461.2" y2="790.3" stroke="#EBEBEB" stroke-width="1.4"/>
<line x1="514.4" y1="753.7" x2="514.4" y2="790.3" stroke="#EBEBEB" stroke-width="1.4"/>
<line x1="567.6" y1="753.7" x2="567.6" y2="790.3" stroke="#EBEBEB" stroke-width="1.4"/>
<line x1="620.8" y1="753.7" x2="620.8" y2="790.3" stroke="#EBEBEB" stroke-width="1.4"/>
<line x1="674" y1="753.7" x2="674" y2="790.3" stroke="#EBEBEB" stroke-width="1.4"/>
<line x1="395.4" y1="760.5" x2="683.5" y2="760.5" stroke="#EBEBEB" stroke-width="1.4"/>
<line x1="395.4" y1="772.2" x2="683.5" y2="772.2" stroke="#EBEBEB" stroke-width="1.4"/>
<line x1="395.4" y1="783.9" x2="683.5" y2="783.9" stroke="#EBEBEB" stroke-width="1.4"/>
<rect x="408" y="755.25" width="0.69" height="10.5" fill="#5B6366" fill-opacity="0.7"/>
<rect x="408.69" y="755.25" width="2.13" height="10.5" fill="#6A5646" fill-opacity="0.7"/>
<rect x="410.82" y="755.25" width="8.46" height="10.5" fill="#88C388" fill-opacity="0.7"/>
<rect x="419.28" y="755.25" width="0.53" height="10.5" fill="#CF6369" fill-opacity="0.7"/>
<rect x="408" y="766.95" width="3.09" height="10.5" fill="#6A5646" fill-opacity="0.7"/>
<rect x="411.09" y="766.95" width="8.99" height="10.5" fill="#C5D9F0" fill-opacity="0.7"/>
<rect x="408" y="778.65" width="9.79" height="10.5" fill="#B5607A" fill-opacity="0.7"/>
<line x1="414" y1="772.5" x2="416.4" y2="772.5" stroke="#262626" stroke-width="1.7"/>
<line x1="420.6" y1="772.5" x2="423.1" y2="772.5" stroke="#262626" stroke-width="1.7"/>
<line x1="414" y1="770.1" x2="414" y2="774.9" stroke="#262626" stroke-width="1.7"/>
<line x1="423.1" y1="770.1" x2="423.1" y2="774.9" stroke="#262626" stroke-width="1.7"/>
<rect x="416.4" y="770.6" width="4.2" height="3.8" fill="#fff" stroke="#333" stroke-width="1.3"/>
<line x1="418.6" y1="770.6" x2="418.6" y2="774.4" stroke="#333" stroke-width="1.3"/>
<text x="389.2" y="776.7" font-size="13" fill="#4D4D4D" text-anchor="end">2030</text>
<text x="412.6" y="798.4" font-size="13" fill="#4D4D4D" text-anchor="end" transform="rotate(-90 412.6 798.4)">0</text>
<text x="465.8" y="798.4" font-size="13" fill="#4D4D4D" text-anchor="end" transform="rotate(-90 465.8 798.4)">100</text>
<text x="519" y="798.4" font-size="13" fill="#4D4D4D" text-anchor="end" transform="rotate(-90 519 798.4)">200</text>
<text x="572.2" y="798.4" font-size="13" fill="#4D4D4D" text-anchor="end" transform="rotate(-90 572.2 798.4)">300</text>
<text x="625.4" y="798.4" font-size="13" fill="#4D4D4D" text-anchor="end" transform="rotate(-90 625.4 798.4)">400</text>
<text x="678.6" y="798.4" font-size="13" fill="#4D4D4D" text-anchor="end" transform="rotate(-90 678.6 798.4)">500</text>
<text x="376.6" y="848.1" font-size="12.8" fill="#1A1A1A" text-anchor="start">Activity</text>
<rect x="353" y="852.8" width="15" height="15" fill="#5B6366"/>
<text x="376.6" y="863.9" font-size="12.8" fill="#1A1A1A" text-anchor="start">industry &amp; waste</text>
<rect x="353" y="868.85" width="15" height="15" fill="#6A5646"/>
<text x="376.6" y="879.9" font-size="12.8" fill="#1A1A1A" text-anchor="start">fossil (energy)</text>
<rect x="353" y="884.9" width="15" height="15" fill="#88C388"/>
<text x="376.6" y="895.9" font-size="12.8" fill="#1A1A1A" text-anchor="start">BECC</text>
<rect x="353" y="900.95" width="15" height="15" fill="#CF6369"/>
<text x="376.6" y="911.9" font-size="12.8" fill="#1A1A1A" text-anchor="start">DAC</text>
<text x="503.6" y="848.1" font-size="12.8" fill="#1A1A1A" text-anchor="start">Origin</text>
<rect x="480.1" y="852.8" width="15" height="15" fill="#6A5646"/>
<text x="503.6" y="863.9" font-size="12.8" fill="#1A1A1A" text-anchor="start">fossil</text>
<rect x="480.1" y="868.85" width="15" height="15" fill="#C5D9F0"/>
<text x="503.6" y="879.9" font-size="12.8" fill="#1A1A1A" text-anchor="start">atmospheric</text>
<text x="503.6" y="895.9" font-size="12.8" fill="#1A1A1A" text-anchor="start">or biogenic</text>
<text x="607.2" y="848.1" font-size="12.8" fill="#1A1A1A" text-anchor="start">Destination</text>
<rect x="583.1" y="852.8" width="15" height="15" fill="#B5607A"/>
<text x="607.2" y="863.9" font-size="12.8" fill="#1A1A1A" text-anchor="start">stored carbon</text>
<rect x="583.1" y="868.85" width="15" height="15" fill="#B8976A"/>
<text x="607.2" y="879.9" font-size="12.8" fill="#1A1A1A" text-anchor="start">e-gases</text>
<rect x="583.1" y="884.9" width="15" height="15" fill="#6F60C0"/>
<text x="607.2" y="895.9" font-size="12.8" fill="#1A1A1A" text-anchor="start">e-liquids</text>
</svg>
</body></html>
